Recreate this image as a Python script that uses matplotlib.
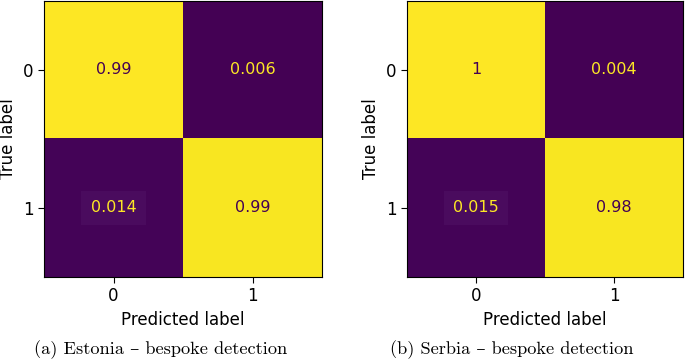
import numpy as np
import matplotlib
matplotlib.use("Agg")
import matplotlib.pyplot as plt

labels = ["0", "1"]
cm_estonia = [[0.994, 0.006], [0.014, 0.986]]
cm_serbia = [[0.996, 0.004], [0.0154, 0.9846]]
text_estonia = [["0.99", "0.006"], ["0.014", "0.99"]]
text_serbia = [["1", "0.004"], ["0.015", "0.98"]]
captions = ["(a) Estonia \u2013 bespoke detection", "(b) Serbia \u2013 bespoke detection"]

fig = plt.figure(figsize=(6.85, 3.59), dpi=100)
W, H = 685, 359
axes_px = [(44, 278), (407, 276)]
cap_centers = [161, 512]

cmap = plt.get_cmap("viridis")
for k, (cm, txt) in enumerate([(cm_estonia, text_estonia), (cm_serbia, text_serbia)]):
    x0, w = axes_px[k]
    ax = fig.add_axes([x0 / W, (H - 277) / H, w / W, 276.5 / H])
    arr = np.array(cm)
    ax.imshow(arr, cmap=cmap, aspect="auto", vmin=arr.min(), vmax=arr.max())
    thresh = (arr.max() + arr.min()) / 2
    for i in range(2):
        for j in range(2):
            dark = arr[i, j] > thresh
            col = cmap(0.0) if dark else cmap(1.0)
            bbox = None
            if i == 1 and j == 0:
                bbox = dict(boxstyle="square,pad=0.6", facecolor="#4a0b5e", edgecolor="none")
            ax.text(j, i, txt[i][j], ha="center", va="center", color=col,
                    fontsize=11.5, bbox=bbox)
    ax.set_xticks(range(2))
    ax.set_yticks(range(2))
    ax.set_xticklabels(labels)
    ax.set_yticklabels(labels)
    ax.tick_params(labelsize=12, length=4)
    ax.set_xlabel("Predicted label", fontsize=12)
    ax.set_ylabel("True label", fontsize=12)
    fig.text(cap_centers[k] / W, 1 - 350 / H, captions[k], ha="center", va="center",
             fontsize=13.2, family=["cmr10", "DejaVu Serif"])

fig.savefig("out.png", dpi=100)
